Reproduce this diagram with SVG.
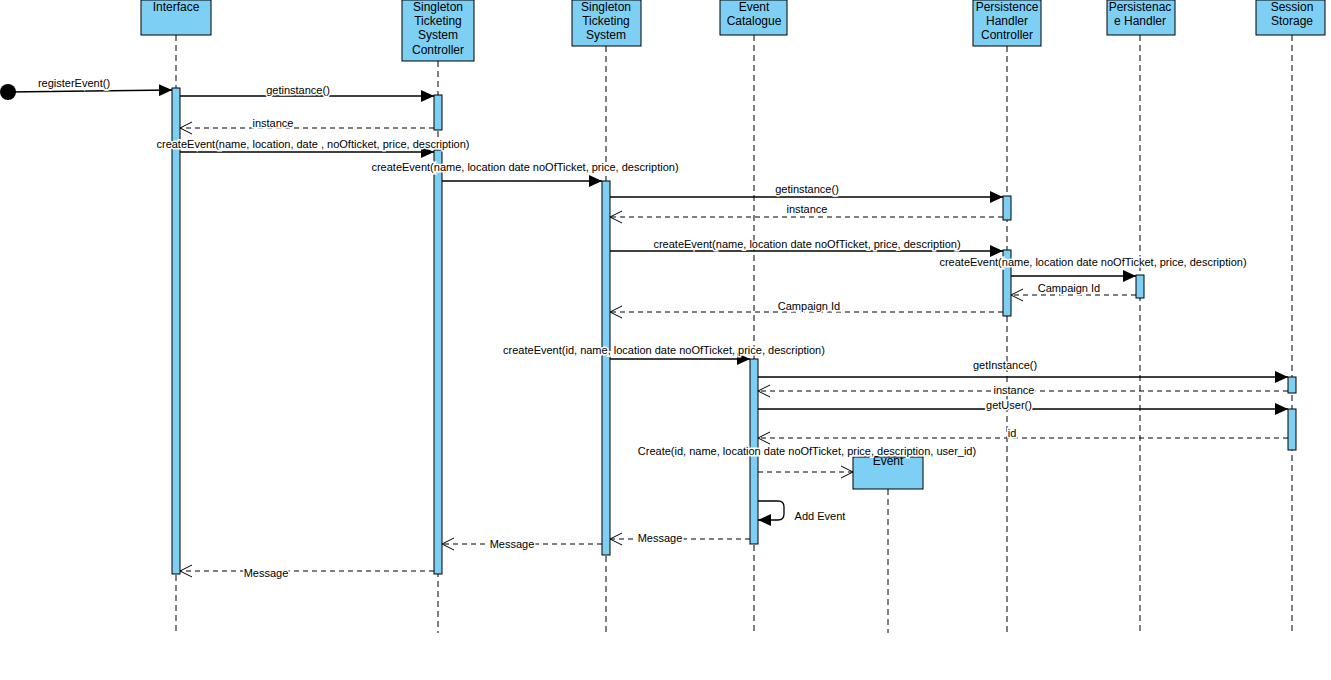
<svg xmlns="http://www.w3.org/2000/svg" width="1331" height="680" viewBox="0 0 1331 680">
<defs>
<marker id="f" markerWidth="14" markerHeight="12" refX="13" refY="6" orient="auto" markerUnits="userSpaceOnUse"><path d="M0,0 L13,6 L0,12 Z" fill="#000"/></marker>
<marker id="o" markerWidth="14" markerHeight="14" refX="13" refY="7" orient="auto" markerUnits="userSpaceOnUse"><path d="M1,1 L13,7 L1,13" fill="none" stroke="#000"/></marker>
</defs>
<style>
.h{fill:#7ecff4;stroke:#000;stroke-width:1}
.ht{font-family:"Liberation Sans",Arial,sans-serif;font-size:12px;text-anchor:middle;fill:#000}
.ll{stroke:#000;stroke-dasharray:6,4;fill:none}
.a{fill:#7ecff4;stroke:#000;stroke-width:1}
.m{stroke:#000;stroke-width:1.3;fill:none;marker-end:url(#f)}
.r{stroke:#000;stroke-width:1;fill:none;stroke-dasharray:5,4;marker-end:url(#o)}
.t{font-family:"Liberation Sans",Arial,sans-serif;font-size:11px;text-anchor:middle;fill:#000;paint-order:stroke;stroke:#fff;stroke-width:3px}
</style>
<rect width="1331" height="680" fill="#fff"/>
<g id="lifelines">
<path class="ll" d="M176,35V633M438,61V633M606,46V633M754,35V633M1007,46V633M1140,35V633M1292,35V633M888,489V633"/>
</g>
<g id="interface"><rect class="h" x="141" y="0" width="70" height="35"/><text class="ht" x="176" y="11">Interface</text></g>
<g id="stsc"><rect class="h" x="402" y="0" width="72" height="61"/><text class="ht" x="438" y="11">Singleton</text><text class="ht" x="438" y="25">Ticketing</text><text class="ht" x="438" y="39">System</text><text class="ht" x="438" y="54">Controller</text></g>
<g id="sts"><rect class="h" x="572" y="0" width="69" height="46"/><text class="ht" x="606" y="11">Singleton</text><text class="ht" x="606" y="25">Ticketing</text><text class="ht" x="606" y="39">System</text></g>
<g id="ec"><rect class="h" x="720" y="0" width="67" height="35"/><text class="ht" x="754" y="11">Event</text><text class="ht" x="754" y="25">Catalogue</text></g>
<g id="phc"><rect class="h" x="973" y="0" width="68" height="46"/><text class="ht" x="1007" y="11">Persistence</text><text class="ht" x="1007" y="25">Handler</text><text class="ht" x="1007" y="39">Controller</text></g>
<g id="ph"><rect class="h" x="1107" y="0" width="68" height="35"/><text class="ht" x="1140" y="11">Persistenac</text><text class="ht" x="1140" y="25">e Handler</text></g>
<g id="ss"><rect class="h" x="1256" y="0" width="69" height="35"/><text class="ht" x="1292" y="11">Session</text><text class="ht" x="1292" y="25">Storage</text></g>
<g id="event"><rect class="h" x="853" y="457" width="70" height="32"/><text class="ht" x="888" y="465">Event</text></g>
<g id="activations">
<rect class="a" x="172" y="88" width="8" height="486"/>
<rect class="a" x="434" y="95" width="8" height="35"/>
<rect class="a" x="434" y="150" width="8" height="424"/>
<rect class="a" x="602" y="181" width="8" height="374"/>
<rect class="a" x="1003" y="196" width="8" height="24"/>
<rect class="a" x="1003" y="250" width="8" height="66"/>
<rect class="a" x="1136" y="275" width="8" height="23"/>
<rect class="a" x="750" y="359" width="8" height="185"/>
<rect class="a" x="1288" y="377" width="8" height="16"/>
<rect class="a" x="1288" y="409" width="8" height="41"/>
</g>
<g id="connectors">
<circle cx="8" cy="92" r="8" fill="#000"/>
<path class="m" d="M8,92 L172,90"/>
<path class="m" d="M180,96H434"/>
<path class="r" d="M434,128H180"/>
<path class="m" d="M180,152H434"/>
<path class="m" d="M442,181H602"/>
<path class="m" d="M610,197H1003"/>
<path class="r" d="M1003,217H610"/>
<path class="m" d="M610,251H1003"/>
<path class="m" d="M1011,276H1136"/>
<path class="r" d="M1136,295H1011"/>
<path class="r" d="M1003,312H610"/>
<path class="m" d="M610,359H750"/>
<path class="m" d="M758,377H1288"/>
<path class="r" d="M1288,391H758"/>
<path class="m" d="M758,409H1288"/>
<path class="r" d="M1288,438H758"/>
<path class="r" d="M758,472H853"/>
<path class="m" d="M758,501H778Q784,501 784,507V514Q784,520 778,520H758"/>
<path class="r" d="M750,539H610"/>
<path class="r" d="M602,544H442"/>
<path class="r" d="M434,571H180"/>
</g>
<g id="labels">
<text class="t" x="74" y="87">registerEvent()</text>
<text class="t" x="298" y="94">getinstance()</text>
<text class="t" x="273" y="127">instance</text>
<text class="t" x="313" y="148">createEvent(name, location, date , noOfticket, price, description)</text>
<text class="t" x="525" y="171">createEvent(name, location date noOfTicket, price, description)</text>
<text class="t" x="807" y="193">getinstance()</text>
<text class="t" x="807" y="213">instance</text>
<text class="t" x="807" y="248">createEvent(name, location date noOfTicket, price, description)</text>
<text class="t" x="1093" y="266">createEvent(name, location date noOfTicket, price, description)</text>
<text class="t" x="1069" y="292">Campaign Id</text>
<text class="t" x="809" y="310">Campaign Id</text>
<text class="t" x="664" y="354">createEvent(id, name, location date noOfTicket, price, description)</text>
<text class="t" x="1005" y="369">getInstance()</text>
<text class="t" x="1014" y="394">instance</text>
<text class="t" x="1009" y="409">getUser()</text>
<text class="t" x="1012" y="437">id</text>
<text class="t" x="807" y="455">Create(id, name, location date noOfTicket, price, description, user_id)</text>
<text class="t" x="820" y="520">Add Event</text>
<text class="t" x="660" y="542">Message</text>
<text class="t" x="512" y="548">Message</text>
<text class="t" x="266" y="577">Message</text>
</g>
</svg>
